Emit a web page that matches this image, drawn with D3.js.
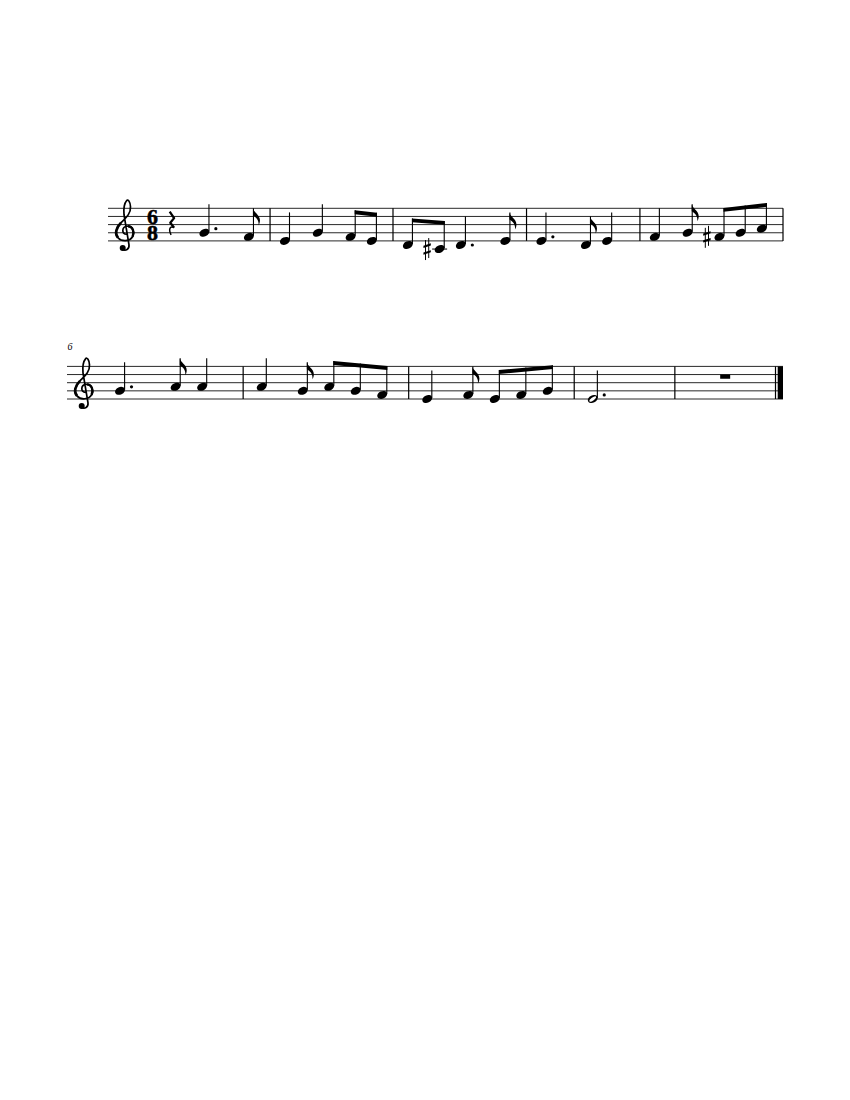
<!DOCTYPE html>
<html>
<head>
<meta charset="utf-8">
<script src="https://cdn.jsdelivr.net/npm/d3@7"></script>
<style>
  body { margin: 0; background: #fff; }
</style>
</head>
<body>
<div id="score"></div>
<script>
// melody, one entry per note/rest; durations counted in eighths (6/8 time)
var pitch = ["r","G4","F4", "E4","G4","F4","E4", "D4","C#4","D4","E4", "E4","D4","E4",
             "F4","G4","F#4","G4","A4", "G4","A4","A4", "A4","G4","A4","G4","F4",
             "E4","F4","E4","F4","G4", "E4", "R"];
var dur   = [2,3,1, 2,2,1,1, 1,1,3,1, 3,1,2, 2,1,1,1,1, 3,1,2, 2,1,1,1,1, 2,1,1,1,1, 6, 6];
var bar   = [1,1,1, 2,2,2,2, 3,3,3,3, 4,4,4, 5,5,5,5,5, 6,6,6, 7,7,7,7,7, 8,8,8,8,8, 9, 10];
// beam group id (0 = no beam)
var beam  = [0,0,0, 0,0,1,1, 2,2,0,0, 0,0,0, 0,0,3,3,3, 0,0,0, 0,0,4,4,4, 0,0,5,5,5, 0, 0];
var systemFirstBar = [1, 6];
var systemLastBar  = [5, 10];
var timeSig = ["6", "8"];

//page layout
var width = 850, height = 1100;
var sp = 8.15;                       // staff space
var staffX0 = [108, 67], staffX1 = 783;
var staffY0 = [208.3, 366.4];
var firstNoteOffset = [63.5, 53];
// horizontal spring per duration (in spacing units)
var spaceFor = {1: 2.0, 2: 3.1, 3: 4.2, 6: 6.2};
var sharpSpace = 1.0, barSpace = 1.4;

var svg = d3.select("#score")
    .append("svg")
    .attr("width", width)
    .attr("height", height);

var notes = pitch.map(function(p, i) {
    return {p: p, d: dur[i], m: bar[i], b: beam[i]};
});

// E4 = 0 (bottom line), F5 = 8 (top line)
function step(p) {
    return "CDEFGAB".indexOf(p[0]) + 7 * (+p[p.length - 1] - 4) - 2;
}

function drawClef(g) {
    g.append("path")
        .attr("d", "M1,1.5 C-4,1.5 -4,-6 1.5,-6.5 C7.5,-7 9.5,0 7,4 C4.5,8.5 -3.5,9.5 -7.5,5 " +
                   "C-11,1 -9.5,-5 -4.5,-10 C0,-14.5 5.5,-19 5,-26 C4.8,-31 2.5,-34 1,-32 " +
                   "C-1.5,-29 -2,-24 -1.5,-18 L3.5,12 C4,16.5 0,18.5 -3,16.5")
        .attr("fill", "none").attr("stroke", "#000")
        .attr("stroke-width", 1.7).attr("stroke-linecap", "round");
    g.append("path")
        .attr("d", "M-7.5,5 C-11,1 -9.5,-5 -4.5,-10")
        .attr("fill", "none").attr("stroke", "#000").attr("stroke-width", 2.6);
    g.append("path")
        .attr("d", "M2.5,-6.5 C7.5,-6.5 9.2,0 7,4")
        .attr("fill", "none").attr("stroke", "#000").attr("stroke-width", 2.3);
    g.append("circle").attr("cx", -2.8).attr("cy", 15.2).attr("r", 3).attr("fill", "#000");
}

function drawSharp(g) {
    g.append("line").attr("x1", -1.6).attr("x2", -1.6).attr("y1", -9).attr("y2", 11)
        .attr("stroke", "#000").attr("stroke-width", 1);
    g.append("line").attr("x1", 1.6).attr("x2", 1.6).attr("y1", -11).attr("y2", 9)
        .attr("stroke", "#000").attr("stroke-width", 1);
    g.append("path").attr("d", "M-3.7,-1.1 L3.7,-3.5 L3.7,-5.7 L-3.7,-3.3 Z").attr("fill", "#000");
    g.append("path").attr("d", "M-3.7,5.7 L3.7,3.3 L3.7,1.1 L-3.7,3.5 Z").attr("fill", "#000");
}

systemFirstBar.forEach(function(fb, s) {
    var lb = systemLastBar[s];
    var isLast = s === systemFirstBar.length - 1;
    var sysNotes = notes.filter(function(n) { return n.m >= fb && n.m <= lb; });

    // spacing units for each note and barline
    var u = 0, bars = [];
    for (var m = fb; m <= lb; m++) {
        if (m > fb) u += barSpace;
        notes.filter(function(n) { return n.m === m; }).forEach(function(n) {
            if (n.p.indexOf("#") > 0) u += sharpSpace;
            n.u = u;
            u += spaceFor[n.d];
        });
        bars.push(u);
    }

    var xEnd = isLast ? staffX1 - 7.5 : staffX1;
    var x = d3.scaleLinear().domain([0, u]).range([staffX0[s] + firstNoteOffset[s], xEnd]);
    var y = d3.scaleLinear().domain([0, 8]).range([staffY0[s] + 4 * sp, staffY0[s]]);

    var g = svg.append("g");

    //staff lines
    g.selectAll(".staff")
        .data(d3.range(0, 9, 2))
        .enter()
        .append("line")
        .attr("x1", staffX0[s]).attr("x2", staffX1)
        .attr("y1", function(d) { return y(d); })
        .attr("y2", function(d) { return y(d); })
        .attr("stroke", "#111").attr("stroke-width", 0.9);

    //barlines
    g.selectAll(".bar")
        .data(bars)
        .enter()
        .append("line")
        .attr("x1", function(d) { return x(d); })
        .attr("x2", function(d) { return x(d); })
        .attr("y1", y(8)).attr("y2", y(0))
        .attr("stroke", "#000").attr("stroke-width", 1.2);
    if (isLast) {
        g.append("rect")
            .attr("x", x(u) + 2.2).attr("y", y(8))
            .attr("width", staffX1 - x(u) - 2.2).attr("height", y(0) - y(8))
            .attr("fill", "#000");
    }

    //clef
    drawClef(g.append("g").attr("transform", "translate(" + (staffX0[s] + 17.5) + "," + y(2) + ")"));

    //time signature on first system, bar number on others
    if (s === 0) {
        g.append("text")
            .attr("text-anchor", "middle")
            .style("font-family", "'Liberation Serif', serif")
            .style("font-weight", "bold")
            .style("font-size", "22px")
            .attr("stroke", "#000").attr("stroke-width", 0.5)
            .selectAll("tspan")
            .data(timeSig)
            .enter()
            .append("tspan")
            .attr("x", staffX0[s] + 44.5)
            .attr("y", function(d, i) { return i === 0 ? y(4) - 0.8 : y(0) - 0.5; })
            .text(function(d) { return d; });
    } else {
        g.append("text")
            .attr("x", staffX0[s] + 0.5)
            .attr("y", y(8) - 16.5)
            .style("font-family", "'Liberation Serif', serif")
            .style("font-style", "italic")
            .style("font-size", "10px")
            .text(fb);
    }

    sysNotes.forEach(function(n) {
        var cx = x(n.u);
        if (n.p === "r") {
            var rg = g.append("g").attr("transform", "translate(" + cx + "," + y(4) + ")");
            rg.append("path").attr("d", "M-1.8,-13 L2.6,-6.5 L-1.2,-1.8 L2.6,3")
                .attr("fill", "none").attr("stroke", "#000")
                .attr("stroke-width", 2.3).attr("stroke-linejoin", "round");
            rg.append("path").attr("d", "M2.6,3 C-1,1 -3.5,4 -0.4,10.3")
                .attr("fill", "none").attr("stroke", "#000").attr("stroke-width", 1.5);
            return;
        }
        if (n.p === "R") {
            var bi = n.m - fb;
            var rx = (x(bars[bi - 1]) + x(bars[bi])) / 2;
            g.append("rect")
                .attr("x", rx - 5).attr("y", y(6))
                .attr("width", 10).attr("height", 4.2)
                .attr("fill", "#000");
            return;
        }
        var st = step(n.p);
        var cy = y(st);
        n.cx = cx; n.cy = cy; n.sx = cx + 4.6;

        //ledger lines
        for (var l = -2; l >= st; l -= 2) {
            g.append("line")
                .attr("x1", cx - 7.5).attr("x2", cx + 7.5)
                .attr("y1", y(l)).attr("y2", y(l))
                .attr("stroke", "#000").attr("stroke-width", 1);
        }
        //notehead
        var head = g.append("g").attr("transform", "translate(" + cx + "," + cy + ") rotate(-25)");
        head.append("ellipse").attr("rx", 5.2).attr("ry", 3.7).attr("fill", "#000");
        if (n.d >= 4) {
            head.append("ellipse").attr("rx", 4).attr("ry", 1.5)
                .attr("transform", "rotate(-12)").attr("fill", "#fff");
        }
        //dot
        if (n.d === 3 || n.d === 6) {
            g.append("circle")
                .attr("cx", cx + 11.5)
                .attr("cy", st % 2 === 0 ? y(st + 1) : cy)
                .attr("r", 1.6).attr("fill", "#000");
        }
        //sharp
        if (n.p.indexOf("#") > 0) {
            drawSharp(g.append("g").attr("transform", "translate(" + (cx - 12.5) + "," + cy + ")"));
        }
        //stem + flag for unbeamed notes
        if (n.b === 0) {
            var top = cy - 3.5 * sp;
            g.append("line")
                .attr("x1", n.sx).attr("x2", n.sx)
                .attr("y1", cy - 1).attr("y2", top)
                .attr("stroke", "#000").attr("stroke-width", 1.1);
            if (n.d === 1) {
                g.append("path")
                    .attr("transform", "translate(" + (n.sx - 0.5) + "," + top + ")")
                    .attr("d", "M0,0 C0.5,4 7,6.5 7,12 C7,14 6.3,16 5.5,17 C6,14.5 5.5,10 0,7 Z")
                    .attr("fill", "#000");
            }
        }
    });

    //beams
    d3.groups(sysNotes.filter(function(n) { return n.b > 0; }), function(n) { return n.b; })
        .forEach(function(grp) {
            var ns = grp[1];
            var a = ns[0], z = ns[ns.length - 1];
            var ia = a.cy - 3.35 * sp, iz = z.cy - 3.35 * sp;
            var mid = (ia + iz) / 2, half = (iz - ia) / 2 * 0.6;
            var by = d3.scaleLinear().domain([a.sx, z.sx]).range([mid - half, mid + half]);
            ns.forEach(function(n) {
                g.append("line")
                    .attr("x1", n.sx).attr("x2", n.sx)
                    .attr("y1", n.cy - 1).attr("y2", by(n.sx))
                    .attr("stroke", "#000").attr("stroke-width", 1.1);
            });
            var x1 = a.sx - 0.5, x2 = z.sx + 0.5;
            g.append("path")
                .attr("d", "M" + x1 + "," + by(x1) + " L" + x2 + "," + by(x2) +
                           " L" + x2 + "," + (by(x2) + 3.9) + " L" + x1 + "," + (by(x1) + 3.9) + " Z")
                .attr("fill", "#000");
        });
});
</script>
</body>
</html>
